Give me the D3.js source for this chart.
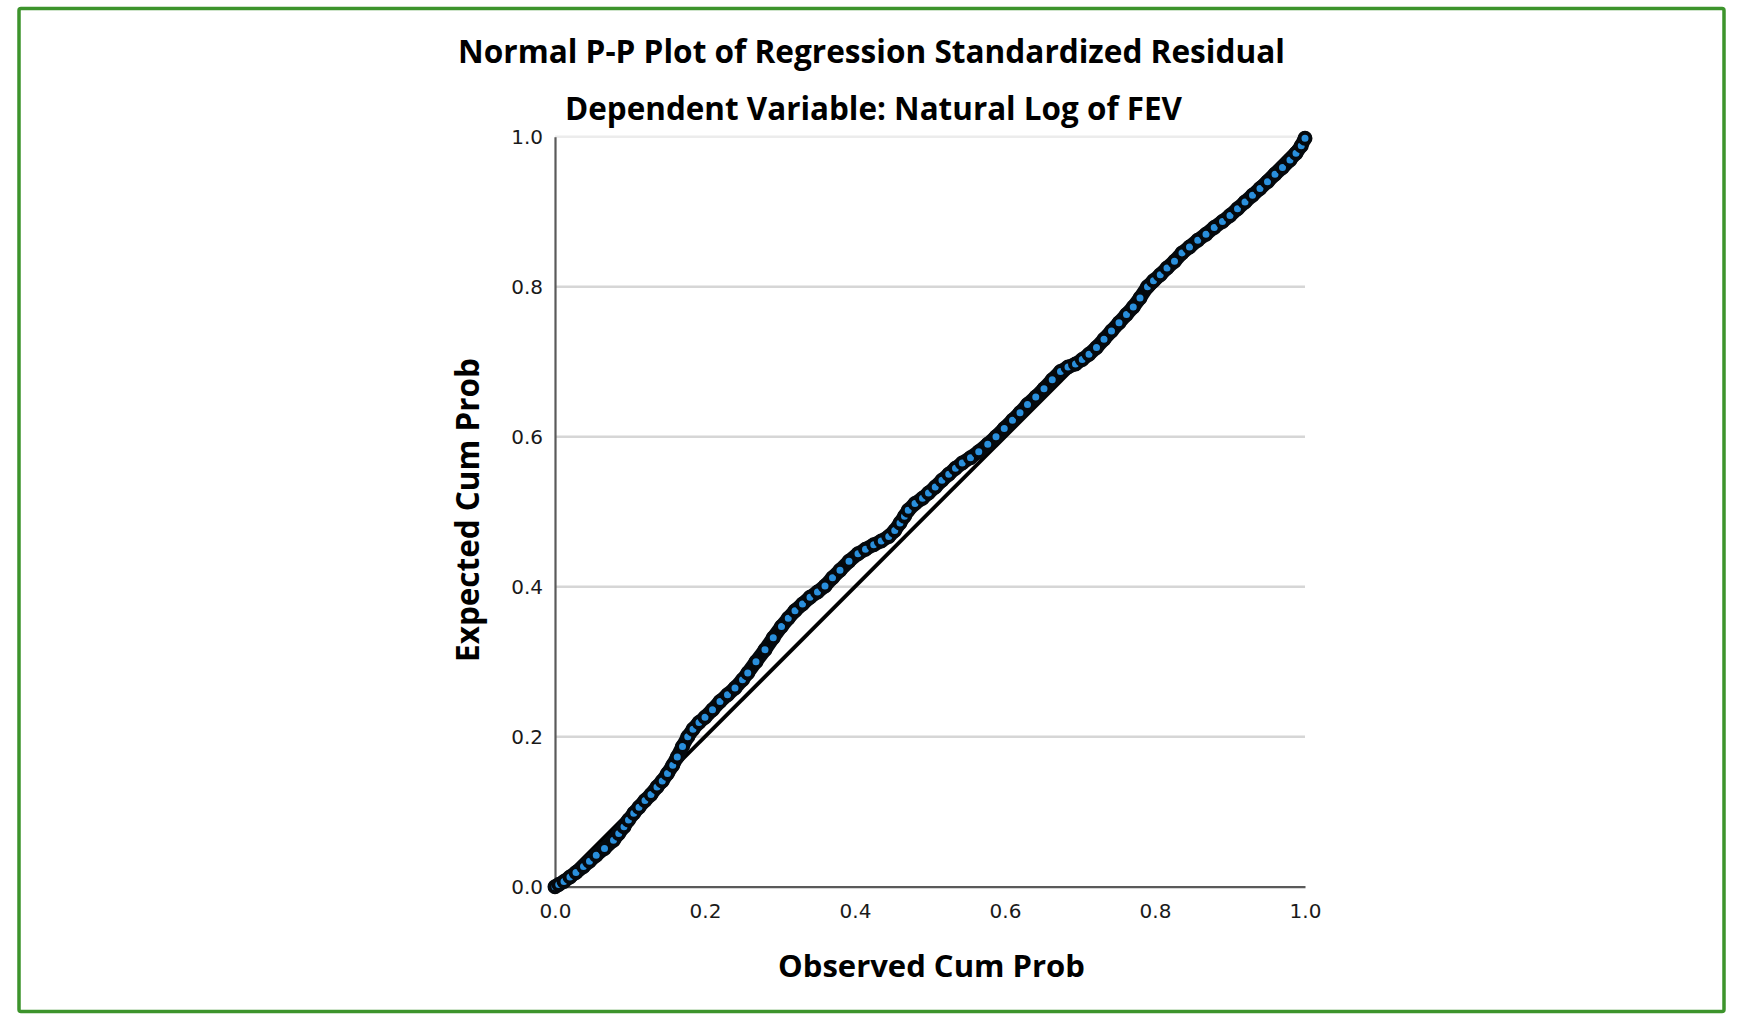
<!DOCTYPE html>
<html>
<head>
<meta charset="utf-8">
<script src="https://cdn.jsdelivr.net/npm/d3@7"></script>
<style>
  body { margin: 0; background: #fff; }
  svg { display: block; }
</style>
</head>
<body>
<svg width="1752" height="1024"></svg>
<script>
// observed vs expected cumulative probability
const observedCumProb = [
  0.000, 0.005, 0.012, 0.020, 0.028, 0.038, 0.046, 0.055, 0.066, 0.078,
  0.085, 0.092, 0.098, 0.105, 0.112, 0.120, 0.128, 0.136, 0.143, 0.150,
  0.157, 0.163, 0.170, 0.177, 0.184, 0.192, 0.200, 0.210, 0.220, 0.230,
  0.240, 0.250, 0.257, 0.268, 0.280, 0.291, 0.302, 0.311, 0.320, 0.330,
  0.340, 0.350, 0.360, 0.370, 0.380, 0.392, 0.404, 0.414, 0.425, 0.435,
  0.445, 0.453, 0.460, 0.466, 0.471, 0.480, 0.490, 0.498, 0.507, 0.516,
  0.525, 0.534, 0.543, 0.554, 0.565, 0.577, 0.588, 0.599, 0.610, 0.620,
  0.630, 0.641, 0.652, 0.663, 0.674, 0.684, 0.694, 0.703, 0.712, 0.722,
  0.732, 0.742, 0.752, 0.762, 0.771, 0.780, 0.790, 0.798, 0.807, 0.816,
  0.826, 0.836, 0.846, 0.857, 0.868, 0.879, 0.890, 0.900, 0.910, 0.920,
  0.930, 0.940, 0.950, 0.960, 0.970, 0.980, 0.988, 0.995, 1.000
];
const expectedCumProb = [
  0.000, 0.003, 0.007, 0.013, 0.019, 0.027, 0.034, 0.042, 0.051, 0.062,
  0.071, 0.080, 0.089, 0.098, 0.106, 0.115, 0.123, 0.133, 0.141, 0.151,
  0.162, 0.173, 0.187, 0.200, 0.210, 0.219, 0.226, 0.236, 0.247, 0.256,
  0.265, 0.276, 0.285, 0.300, 0.316, 0.332, 0.347, 0.358, 0.368, 0.377,
  0.386, 0.393, 0.401, 0.412, 0.422, 0.434, 0.444, 0.450, 0.456, 0.461,
  0.467, 0.475, 0.485, 0.494, 0.502, 0.511, 0.518, 0.525, 0.533, 0.542,
  0.550, 0.558, 0.565, 0.572, 0.580, 0.590, 0.600, 0.611, 0.622, 0.632,
  0.643, 0.653, 0.664, 0.676, 0.687, 0.693, 0.697, 0.703, 0.710, 0.719,
  0.730, 0.741, 0.752, 0.763, 0.773, 0.785, 0.800, 0.808, 0.816, 0.825,
  0.834, 0.845, 0.853, 0.862, 0.870, 0.879, 0.887, 0.895, 0.904, 0.913,
  0.922, 0.931, 0.940, 0.950, 0.959, 0.969, 0.978, 0.988, 0.998
];
const tickValues = [0, 0.2, 0.4, 0.6, 0.8, 1.0];
const tickLabels = ["0.0", "0.2", "0.4", "0.6", "0.8", "1.0"];

const titleText = "Normal P-P Plot of Regression Standardized Residual";
const subtitleText = "Dependent Variable: Natural Log of FEV";
const xLabelText = "Observed Cum Prob";
const yLabelText = "Expected Cum Prob";

const svg = d3.select("svg");

// green frame
svg.append("rect")
    .attr("x", 19).attr("y", 8.5)
    .attr("width", 1705).attr("height", 1003)
    .attr("rx", 2)
    .attr("fill", "none")
    .attr("stroke", "#3d942c")
    .attr("stroke-width", 3.5);

const x = d3.scaleLinear().domain([0, 1]).range([555, 1305]);
const y = d3.scaleLinear().domain([0, 1]).range([886.7, 136.7]);

// gridlines
svg.append("g")
    .selectAll("line")
    .data(tickValues.slice(1))
    .enter().append("line")
    .attr("x1", x(0)).attr("x2", x(1))
    .attr("y1", d => y(d)).attr("y2", d => y(d))
    .attr("stroke", d => d === 1 ? "#ececec" : "#d6d6d6")
    .attr("stroke-width", 2.5);

// axes, labels only
const xAxis = svg.append("g")
    .attr("transform", `translate(0, ${y(0)})`)
    .call(d3.axisBottom(x).tickValues(tickValues)
        .tickFormat((d, i) => tickLabels[i]).tickSize(0).tickPadding(17));
const yAxis = svg.append("g")
    .attr("transform", `translate(${x(0)}, 0)`)
    .call(d3.axisLeft(y).tickValues(tickValues)
        .tickFormat((d, i) => tickLabels[i]).tickSize(0).tickPadding(12));

[xAxis, yAxis].forEach(a => {
    a.select(".domain").attr("stroke", "#5a5a5a").attr("stroke-width", 2.2);
    a.selectAll("text")
        .attr("font-family", "DejaVu Sans")
        .attr("font-size", 20)
        .attr("fill", "#1a1a1a");
});

// reference diagonal
svg.append("line")
    .attr("x1", x(0)).attr("y1", y(0))
    .attr("x2", x(1)).attr("y2", y(1))
    .attr("stroke", "#000")
    .attr("stroke-width", 3.8);

// points
const points = observedCumProb.map((d, i) => ({ obs: d, exp: expectedCumProb[i] }));

svg.append("path")
    .datum(points)
    .attr("fill", "none")
    .attr("stroke", "#05090d")
    .attr("stroke-width", 14)
    .attr("stroke-linecap", "round")
    .attr("stroke-linejoin", "round")
    .attr("d", d3.line().x(d => x(d.obs)).y(d => y(d.exp)));

svg.append("g")
    .selectAll("circle")
    .data(points)
    .enter().append("circle")
    .attr("cx", d => x(d.obs))
    .attr("cy", d => y(d.exp))
    .attr("r", 5.5)
    .attr("fill", "#2a8fdc")
    .attr("stroke", "#05090d")
    .attr("stroke-width", 4);

// text, sized to the widths in the picture
function fit(sel, width) {
    const w = sel.node().getComputedTextLength();
    const fs = parseFloat(sel.attr("font-size"));
    sel.attr("font-size", fs * width / w);
}

function boldText(tx, ty, str, width) {
    const t = svg.append("text")
        .attr("x", tx).attr("y", ty)
        .attr("text-anchor", "middle")
        .attr("font-family", "Open Sans")
        .attr("font-weight", "bold")
        .attr("font-size", 30)
        .attr("fill", "#000")
        .text(str);
    fit(t, width);
    return t;
}

boldText(871.5, 63, titleText, 827);
boldText(873.5, 120, subtitleText, 617);
boldText(931.5, 977, xLabelText, 307);
boldText(0, 0, yLabelText, 304)
    .attr("transform", "translate(479, 510) rotate(-90)");
</script>
</body>
</html>
